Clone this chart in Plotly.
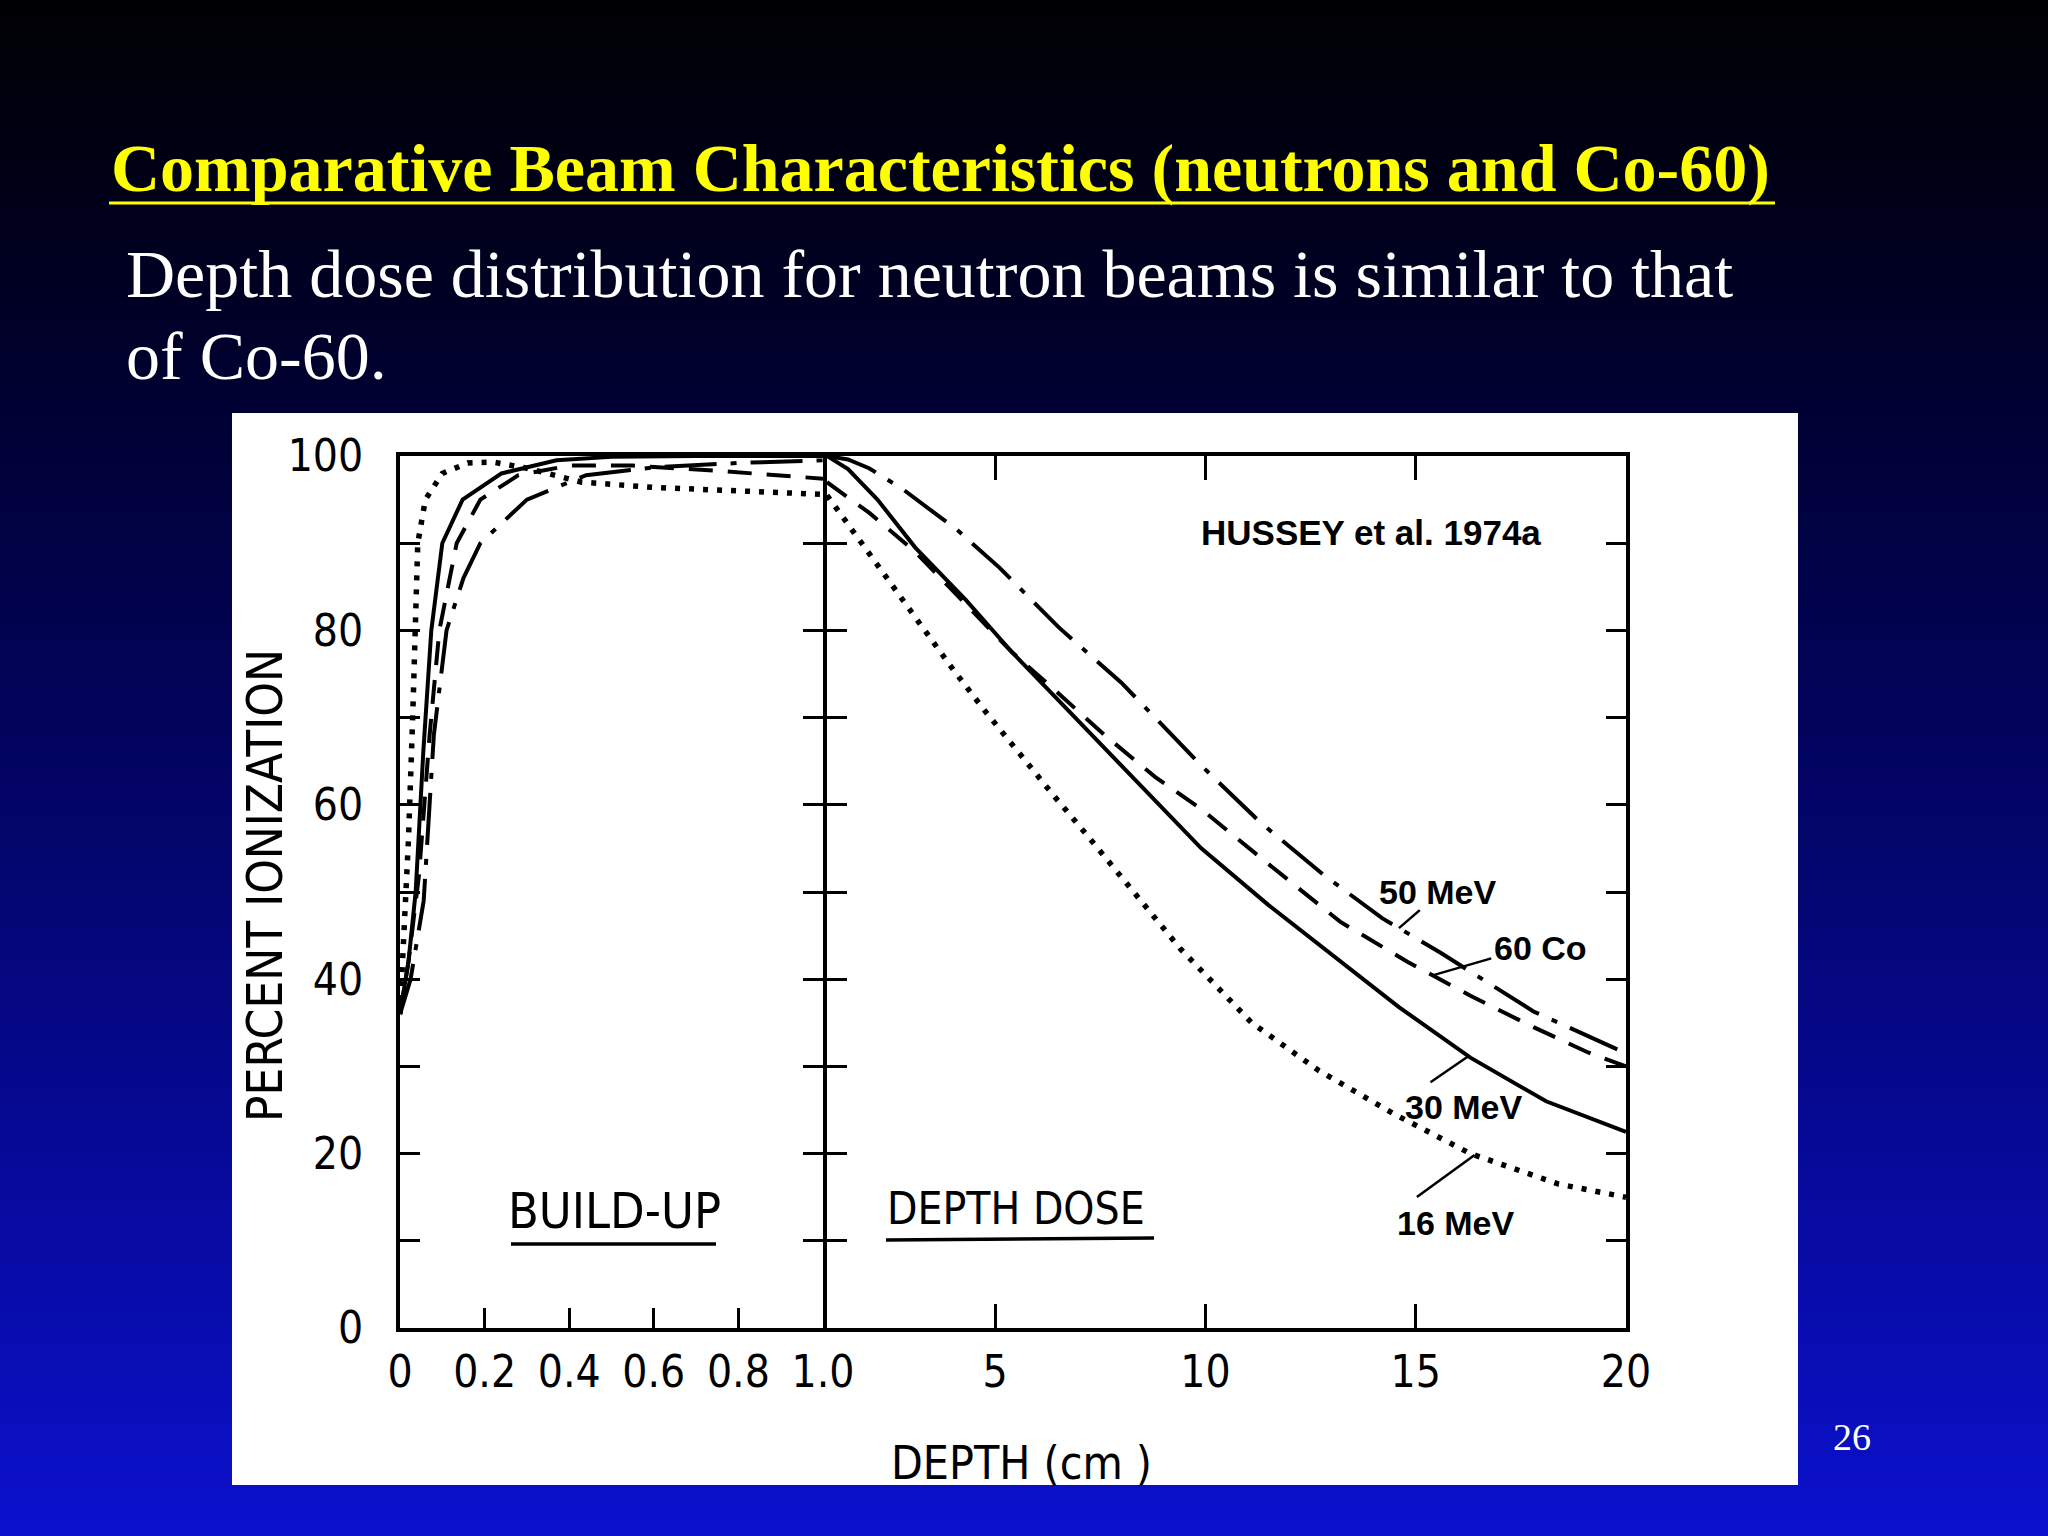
import numpy as np
import plotly.graph_objects as go

W, H = 2048, 1536

# ---- build-up region, depth 0 - 1.0 cm (percent ionization) ----
bu_depth_16 = [0, 0.01, 0.02, 0.03, 0.036, 0.042, 0.06, 0.10, 0.16, 0.22, 0.30, 0.43, 0.60, 0.80, 1.0]
bu_pct_16 = [36, 45, 56, 70, 80, 90, 95, 98, 99.2, 99.3, 98.6, 97.0, 96.4, 96.0, 95.6]

bu_depth_30 = [0, 0.02, 0.037, 0.055, 0.074, 0.10, 0.148, 0.24, 0.37, 0.50, 0.70, 1.0]
bu_pct_30 = [36, 42, 50, 66, 80, 90, 95, 98, 99.5, 99.9, 100, 100]

bu_depth_co = [0, 0.02, 0.045, 0.07, 0.093, 0.134, 0.19, 0.28, 0.40, 0.55, 0.75, 1.0]
bu_pct_co = [36, 42, 52, 68, 80, 90, 95, 97.8, 98.9, 98.9, 98.3, 97.4]

bu_depth_50 = [0, 0.025, 0.056, 0.08, 0.11, 0.15, 0.19, 0.30, 0.44, 0.60, 0.80, 1.0]
bu_pct_50 = [36, 40, 49, 68, 80, 86, 90, 95, 97.8, 98.7, 99.2, 99.5]

# ---- depth dose region, depth 1 - 20 cm ----
dd_depth_16 = [1.0, 1.6, 2.4, 3.2, 4.0, 4.8, 5.8, 6.4, 7.1, 8.4, 9.4, 10.2, 11.1, 12.7, 14.5, 16.3, 18.4, 20.0]
dd_pct_16 = [95.5, 91.5, 86.3, 81.0, 75.5, 70.5, 64.5, 61.0, 57.0, 49.5, 43.5, 39.5, 35.0, 29.5, 24.5, 20.0, 16.5, 15.0]

dd_depth_30 = [1.0, 1.5, 2.2, 3.1, 4.3, 5.4, 6.5, 7.6, 8.8, 9.9, 11.5, 13.1, 14.6, 16.3, 18.1, 20.0]
dd_pct_30 = [100, 98.5, 95.0, 89.5, 83.5, 77.5, 72.0, 66.5, 60.5, 55.0, 48.5, 42.5, 36.8, 31.0, 26.0, 22.5]

dd_depth_co = [1.0, 2.0, 3.1, 4.0, 5.4, 6.5, 7.6, 8.8, 9.9, 11.5, 13.2, 14.8, 16.3, 17.8, 19.1, 20.0]
dd_pct_co = [97.0, 93.5, 89.0, 84.5, 77.5, 72.8, 68.0, 63.2, 59.5, 53.2, 46.6, 42.0, 38.1, 34.5, 31.6, 30.0]

dd_depth_50 = [1.0, 1.5, 2.0, 2.8, 4.1, 5.1, 6.5, 8.0, 9.9, 11.3, 12.8, 14.2, 15.6, 17.8, 20.0]
dd_pct_50 = [100, 99.6, 98.6, 96.2, 91.5, 87.2, 80.4, 74.0, 64.5, 58.0, 52.0, 47.0, 43.0, 36.3, 31.5]

buildup_ticks = [0, 0.2, 0.4, 0.6, 0.8, 1.0]
buildup_labels = ["0", "0.2", "0.4", "0.6", "0.8", "1.0"]
depth_ticks = [5, 10, 15, 20]
depth_labels = ["5", "10", "15", "20"]
pct_ticks = list(range(0, 101, 10))
pct_labels = [str(v) if v % 20 == 0 else "" for v in pct_ticks]

# label, build-up data, depth-dose data, line style, leader (tip depth, dx px, dy px), label pos
series = [
    ("16 MeV", bu_depth_16, bu_pct_16, dd_depth_16, dd_pct_16,
     dict(color="black", width=5.5, dash="5px,9px"), (16.4, -58, 42), (1455, 1223)),
    ("30 MeV", bu_depth_30, bu_pct_30, dd_depth_30, dd_pct_30,
     dict(color="black", width=4), (16.25, -38, 26), (1463, 1107)),
    ("60 Co", bu_depth_co, bu_pct_co, dd_depth_co, dd_pct_co,
     dict(color="black", width=4, dash="24px,15px"), (15.4, 59, -17), (1540, 948)),
    ("50 MeV", bu_depth_50, bu_pct_50, dd_depth_50, dd_pct_50,
     dict(color="black", width=4, dash="52px,14px,6px,14px"), (14.6, 21, -18), (1437, 892)),
]

# page geometry (pixels of the 2048x1536 slide)
PANEL = (232, 413, 1798, 1485)
X0, X1, X2 = 400, 823, 1626   # depth 0, 1.0 and 20 cm
Y_TOP, Y_BOT = 456, 1328      # 100 % and 0 %
LW = 4                        # frame line width


def px(x):
    return x / W


def py(y):
    return 1 - y / H


narrow = "Liberation Sans Narrow, DejaVu Sans Condensed, Arial Narrow, Liberation Sans, sans-serif"
serif = "Liberation Serif, Times New Roman, serif"
sans = "Liberation Sans, Arial, sans-serif"

fig = go.Figure()

for name, bx, by, dx, dy, line, _, _ in series:
    fig.add_trace(go.Scatter(x=bx, y=by, mode="lines", line=line, name=name,
                             xaxis="x", yaxis="y", showlegend=False, hoverinfo="skip"))
    fig.add_trace(go.Scatter(x=dx, y=dy, mode="lines", line=line, name=name,
                             xaxis="x2", yaxis="y2", showlegend=False, hoverinfo="skip"))

# slide background: black to blue gradient made of thin bands
shapes = []
n_bands = 96
for i in range(n_bands):
    t = (i + 0.5) / n_bands
    r = int(12 * t ** 2)
    g = int(18 * t ** 2)
    b = int(4 + 202 * t ** 1.1)
    shapes.append(dict(type="rect", xref="paper", yref="paper", layer="below",
                       x0=0, x1=1, y0=max(0, 1 - (i + 1) / n_bands - 0.002), y1=1 - i / n_bands,
                       line=dict(width=0), fillcolor=f"rgb({r},{g},{b})"))

# white figure panel
shapes.append(dict(type="rect", xref="paper", yref="paper", layer="below",
                   x0=px(PANEL[0]), x1=px(PANEL[2]), y0=py(PANEL[3]), y1=py(PANEL[1]),
                   line=dict(width=0), fillcolor="white"))

# title underline and label underlines
shapes.append(dict(type="line", xref="paper", yref="paper", x0=px(109), x1=px(1775),
                   y0=py(203), y1=py(203), line=dict(color="#FFFF00", width=3)))
shapes.append(dict(type="line", xref="paper", yref="paper", x0=px(511), x1=px(716),
                   y0=py(1244), y1=py(1244), line=dict(color="black", width=3.5)))
shapes.append(dict(type="line", xref="paper", yref="paper", x0=px(886), x1=px(1154),
                   y0=py(1240), y1=py(1238), line=dict(color="black", width=3.5)))

# leader lines from curve labels to the curves
cm_per_px = 19 / (X2 - X1)
pct_per_px = 100 / (Y_BOT - Y_TOP)
for name, bx, by, dx, dy, line, (tip, ox, oy), _ in series:
    yt = float(np.interp(tip, dx, dy))
    shapes.append(dict(type="line", xref="x2", yref="y2", x0=tip, y0=yt,
                       x1=tip + ox * cm_per_px, y1=yt - oy * pct_per_px,
                       line=dict(color="black", width=2.5)))

annotations = [
    dict(text="<b>Comparative Beam Characteristics (neutrons and Co-60)</b>",
         x=px(109), y=py(168), xanchor="left", yanchor="middle",
         font=dict(family=serif, size=68, color="#FFFF00")),
    dict(text="Depth dose distribution for neutron beams is similar to that",
         x=px(124), y=py(274), xanchor="left", yanchor="middle",
         font=dict(family=serif, size=68, color="white")),
    dict(text="of Co-60.", x=px(124), y=py(356), xanchor="left", yanchor="middle",
         font=dict(family=serif, size=68, color="white")),
    dict(text="26", x=px(1852), y=py(1437), xanchor="center", yanchor="middle",
         font=dict(family=serif, size=38, color="white")),
    dict(text="PERCENT IONIZATION", x=px(265), y=py(886), textangle=-90,
         xanchor="center", yanchor="middle", font=dict(family=narrow, size=49, color="black")),
    dict(text="DEPTH (cm )", x=px(1021), y=py(1463), xanchor="center", yanchor="middle",
         font=dict(family=narrow, size=46, color="black")),
    dict(text="<b>HUSSEY et al. 1974a</b>", x=px(1371), y=py(532), xanchor="center",
         yanchor="middle", font=dict(family=sans, size=35, color="black")),
    dict(text="BUILD-UP", x=px(614), y=py(1211), xanchor="center", yanchor="middle",
         font=dict(family=narrow, size=50, color="black")),
    dict(text="DEPTH DOSE", x=px(1016), y=py(1208), xanchor="center", yanchor="middle",
         font=dict(family=narrow, size=44, color="black")),
]
for name, *_, (lx, ly) in series:
    annotations.append(dict(text=f"<b>{name}</b>", x=px(lx), y=py(ly), xanchor="center",
                            yanchor="middle", font=dict(family=sans, size=34, color="black")))
for a in annotations:
    a.update(xref="paper", yref="paper", showarrow=False)

tick_font = dict(family=narrow, size=44, color="black")
axis_common = dict(showline=True, linewidth=LW, linecolor="black", showgrid=False,
                   zeroline=False, ticks="inside", tickwidth=3, tickcolor="black",
                   tickfont=tick_font)

fig.update_layout(
    width=W, height=H,
    margin=dict(l=0, r=0, t=0, b=0, pad=0, autoexpand=False),
    paper_bgcolor="#000040",
    plot_bgcolor="white",
    showlegend=False,
    shapes=shapes,
    annotations=annotations,
    xaxis=dict(domain=[px(X0), px(X1)], range=[0, 1.0], anchor="y", mirror=True,
               tickvals=buildup_ticks, ticktext=buildup_labels, ticklen=20,
               ticklabelstandoff=2, **axis_common),
    # shift the right panel by one line width so its left axis line overlays the divider
    xaxis2=dict(domain=[px(X1 + LW), px(X2)], range=[1, 20], anchor="y2", mirror="ticks",
                tickvals=depth_ticks, ticktext=depth_labels, ticklen=24,
                ticklabelstandoff=2, **axis_common),
    yaxis=dict(domain=[py(Y_BOT), py(Y_TOP)], range=[0, 100], anchor="x", mirror="ticks",
               tickvals=pct_ticks, ticktext=pct_labels, ticklen=20,
               ticklabelstandoff=24, **axis_common),
    yaxis2=dict(domain=[py(Y_BOT), py(Y_TOP)], range=[0, 100], anchor="x2", mirror="ticks",
                tickvals=pct_ticks[1:-1], showticklabels=False, ticklen=20, **axis_common),
)

fig.write_html("out.html", config={"displayModeBar": False},
               post_script="document.body.style.margin = '0';")
